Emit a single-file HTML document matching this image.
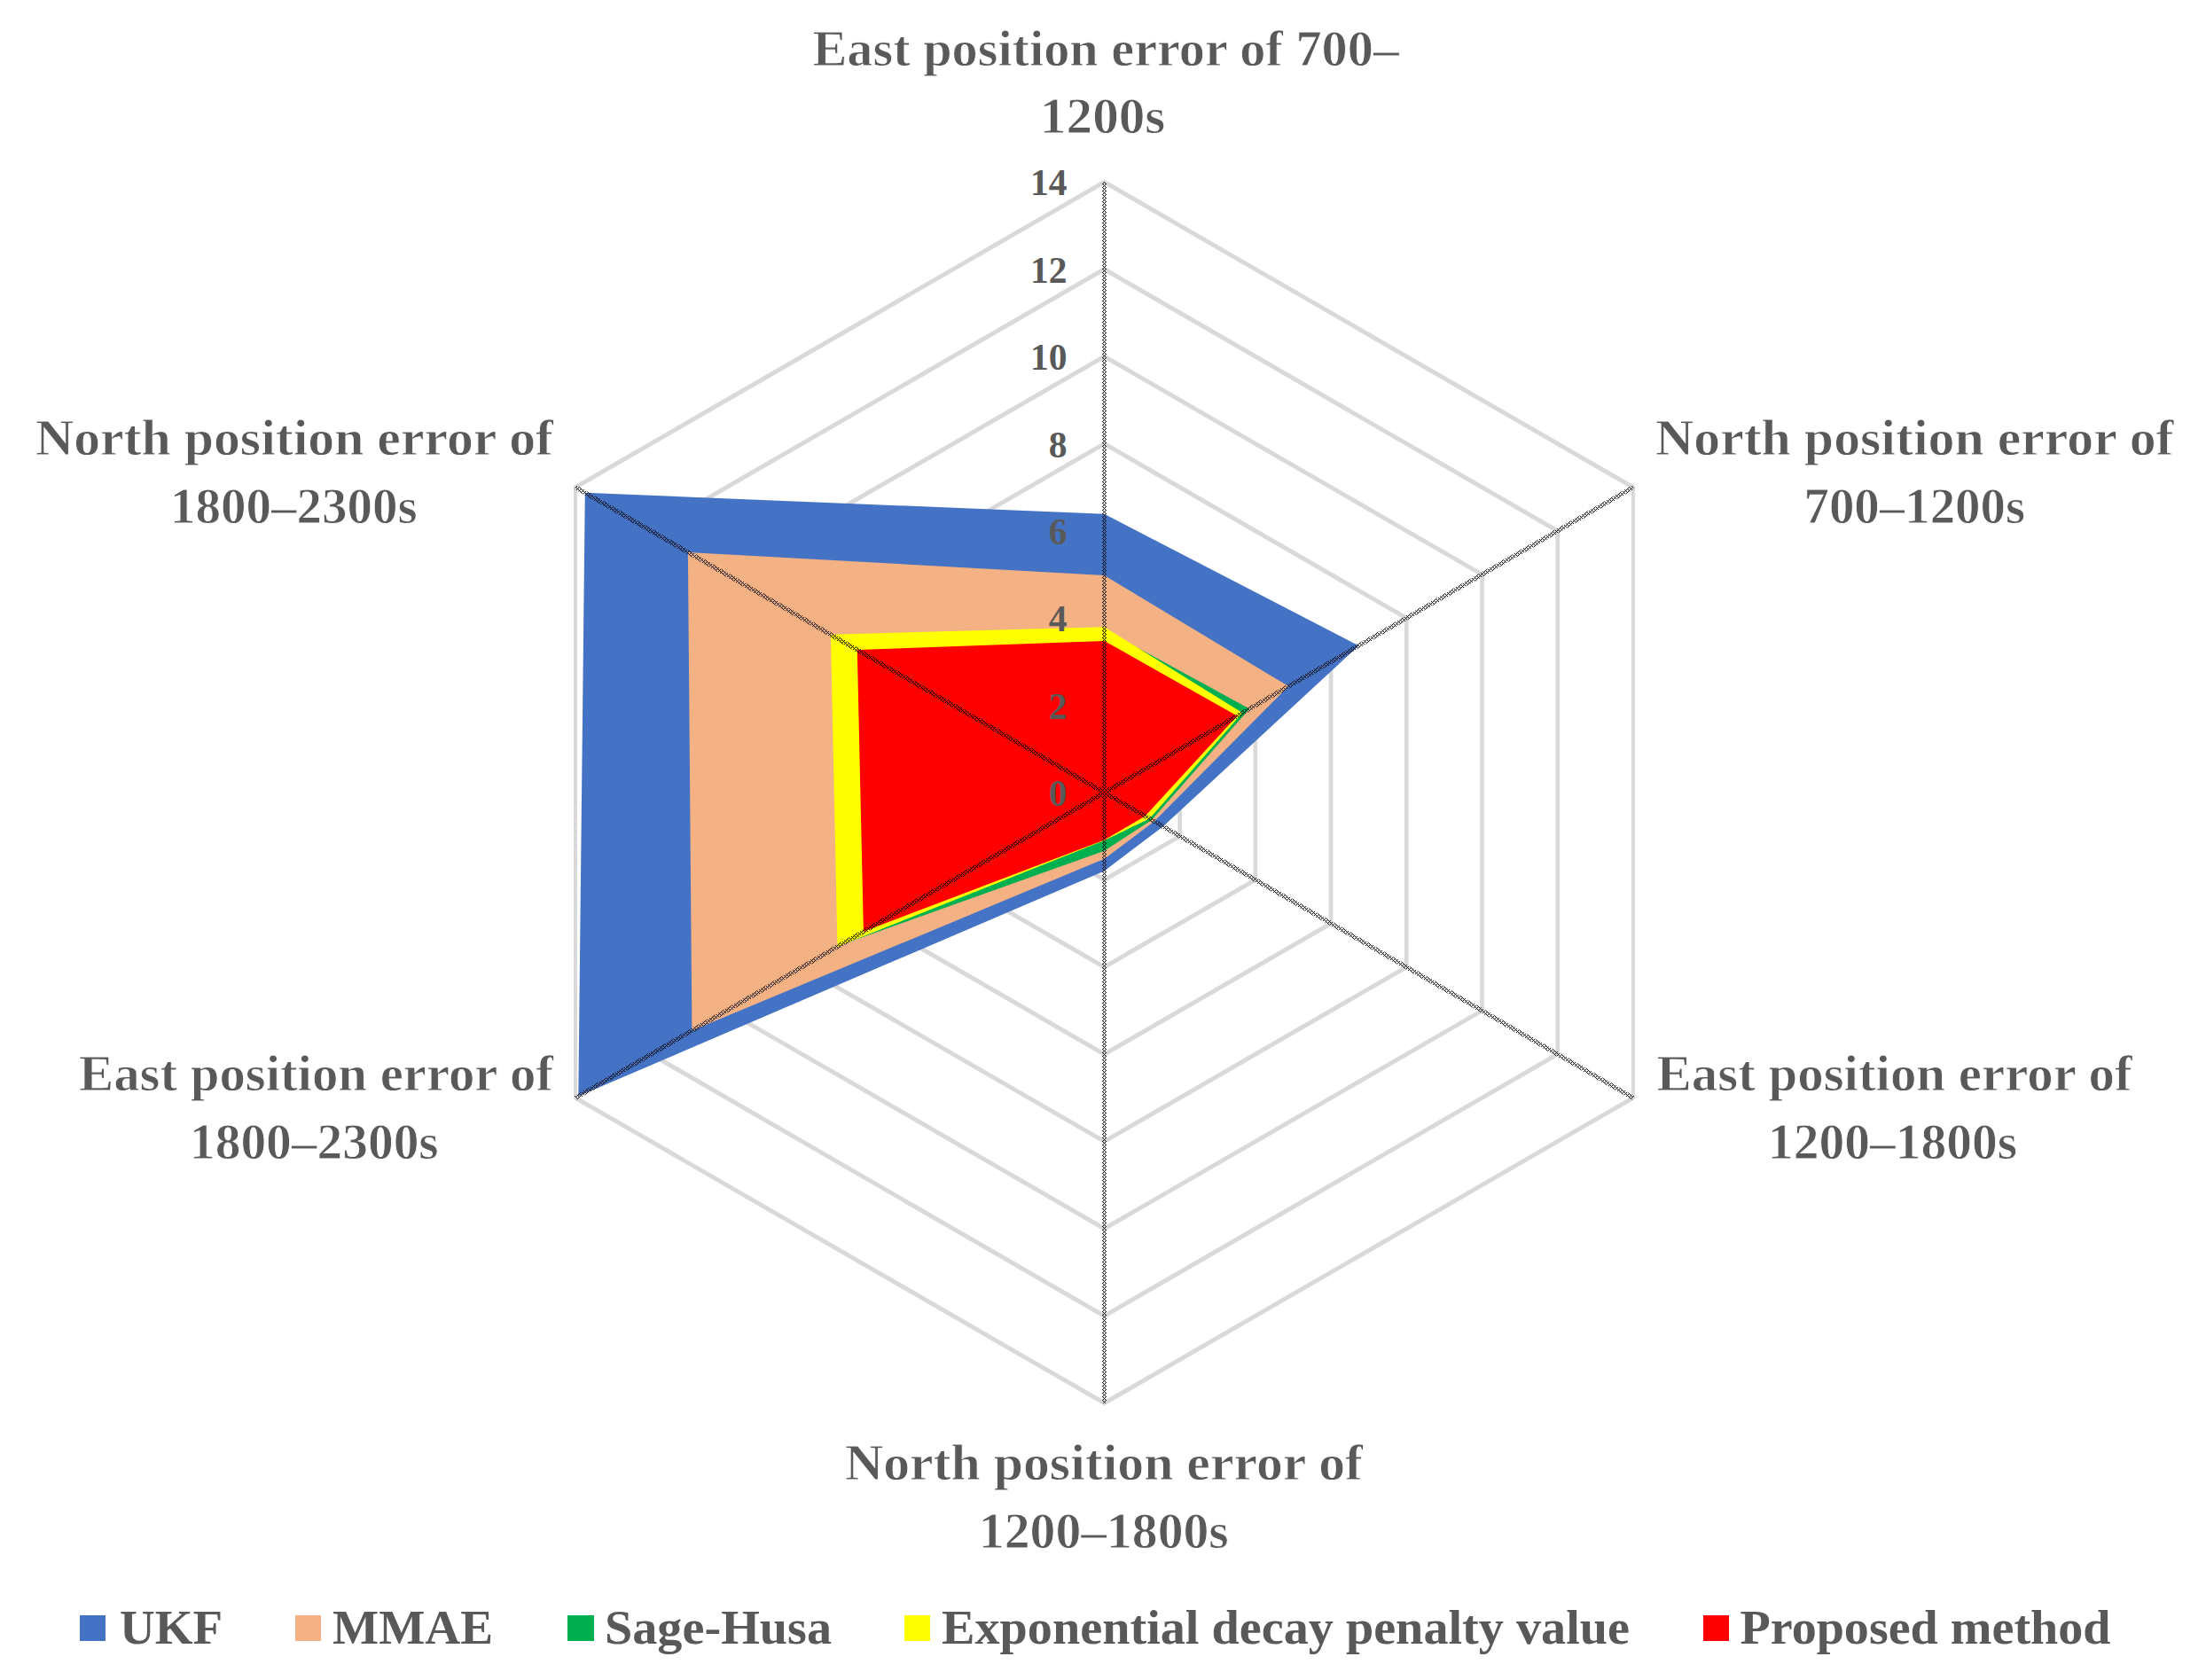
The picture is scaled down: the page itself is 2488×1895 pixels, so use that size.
<!DOCTYPE html>
<html lang="en">
<head>
<meta charset="utf-8">
<title>Radar chart - position error comparison</title>
<style>
html,body{margin:0;padding:0;background:#fff;}
body{width:2488px;height:1895px;overflow:hidden;}
svg{display:block;}
.t{font-family:"Liberation Serif","DejaVu Serif",serif;font-weight:bold;fill:#595959;}
</style>
</head>
<body>
<svg width="2488" height="1895" viewBox="0 0 2488 1895">
<defs>
<pattern id="hatch" x="1243" y="1" width="4" height="4" patternUnits="userSpaceOnUse">
<g fill="#000" shape-rendering="crispEdges">
<rect x="2" y="0" width="1" height="1"/><rect x="1" y="1" width="1" height="1"/><rect x="3" y="1" width="1" height="1"/><rect x="0" y="2" width="1" height="1"/><rect x="1" y="3" width="1" height="1"/><rect x="3" y="3" width="1" height="1"/>
</g>
</pattern>
</defs>
<rect width="2488" height="1895" fill="#fff"/>
<g fill="none" stroke="#D9D9D9" stroke-width="4.9" stroke-linejoin="miter">
<polyline points="1160.3,844.8 1245.5,795.6 1330.7,844.8"/>
<polyline points="1330.7,943.2 1245.5,992.4 1160.3,943.2"/>
<polyline points="1075.1,795.6 1245.5,697.2 1415.9,795.6"/>
<polyline points="1415.9,992.4 1245.5,1090.8 1075.1,992.4"/>
<polyline points="989.9,746.4 1245.5,598.8 1501.1,746.4"/>
<polyline points="1501.1,1041.6 1245.5,1189.2 989.9,1041.6"/>
<polyline points="904.7,697.2 1245.5,500.5 1586.3,697.2"/>
<polyline points="1586.3,1090.8 1245.5,1287.5 904.7,1090.8"/>
<polyline points="819.5,648.0 1245.5,402.1 1671.5,648.0"/>
<polyline points="1671.5,1140.0 1245.5,1385.9 819.5,1140.0"/>
<polyline points="734.3,598.8 1245.5,303.7 1756.7,598.8"/>
<polyline points="1756.7,1189.2 1245.5,1484.3 734.3,1189.2"/>
<polyline points="649.1,549.6 1245.5,205.3 1841.9,549.7"/>
<polyline points="1841.9,1238.3 1245.5,1582.7 649.1,1238.3"/>
</g>
<g fill="#D9D9D9">
<rect x="1328.40" y="843.3" width="4.6" height="101.4"/>
<rect x="1158.00" y="843.3" width="4.6" height="101.4"/>
<rect x="1413.61" y="794.1" width="4.6" height="199.8"/>
<rect x="1072.79" y="794.1" width="4.6" height="199.8"/>
<rect x="1498.81" y="744.9" width="4.6" height="298.2"/>
<rect x="987.59" y="744.9" width="4.6" height="298.2"/>
<rect x="1584.02" y="695.7" width="4.6" height="396.5"/>
<rect x="902.38" y="695.7" width="4.6" height="396.5"/>
<rect x="1669.22" y="646.5" width="4.6" height="494.9"/>
<rect x="817.18" y="646.5" width="4.6" height="494.9"/>
<rect x="1754.43" y="597.3" width="4.6" height="593.3"/>
<rect x="731.97" y="597.3" width="4.6" height="593.3"/>
<rect x="1840.00" y="548.2" width="4.0" height="691.7"/>
<rect x="647.00" y="548.1" width="4.0" height="691.7"/>
</g>
<polygon points="1245.5,579.7 1532.5,728.3 1311.8,932.2 1245.5,982.4 652.3,1236.5 659.8,555.8" fill="#4472C4"/>
<polygon points="1245.5,649.0 1453.2,774.1 1301.8,926.5 1245.5,968.8 780.4,1162.5 775.9,622.9" fill="#F4B183"/>
<polygon points="1245.5,710.0 1409.2,799.5 1298.9,924.9 1245.5,959.8 947.2,1066.2 944.1,720.0" fill="#00B050"/>
<polygon points="1245.5,707.3 1401.2,804.1 1296.4,923.4 1245.5,947.9 944.5,1067.8 936.9,715.8" fill="#FFFF00"/>
<polygon points="1245.5,722.9 1395.3,807.5 1291.6,920.6 1245.5,947.5 973.9,1050.8 966.8,733.1" fill="#FF0000"/>
<g fill="url(#hatch)">
<polygon points="1248.00,894.00 1248.00,205.30 1243.00,205.30 1243.00,894.00"/>
<polygon points="1246.75,896.17 1843.18,551.82 1840.68,547.48 1244.25,891.83"/>
<polygon points="1244.25,896.17 1840.68,1240.52 1843.18,1236.18 1246.75,891.83"/>
<polygon points="1243.00,894.00 1243.00,1582.70 1248.00,1582.70 1248.00,894.00"/>
<polygon points="1244.25,891.83 647.82,1236.18 650.32,1240.52 1246.75,896.17"/>
<polygon points="1246.75,891.83 650.32,547.48 647.82,551.82 1244.25,896.17"/>
</g>
<g class="t" font-size="41.5" text-anchor="end">
<text x="1203.5" y="909.0">0</text>
<text x="1203.5" y="810.6">2</text>
<text x="1203.5" y="712.2">4</text>
<text x="1203.5" y="613.8">6</text>
<text x="1203.5" y="515.5">8</text>
<text x="1203.5" y="417.1">10</text>
<text x="1203.5" y="318.7">12</text>
<text x="1203.5" y="220.3">14</text>
</g>
<g class="t" font-size="56" stroke="#fff" stroke-width="0.8">
<text x="916.5" y="74.1" textLength="661.5" lengthAdjust="spacingAndGlyphs">East position error of 700–</text>
<text x="1173.0" y="149.6" textLength="141.3" lengthAdjust="spacingAndGlyphs">1200s</text>
<text x="1867.0" y="513.3" textLength="584.5" lengthAdjust="spacingAndGlyphs">North position error of</text>
<text x="2034.5" y="590.2" textLength="249.6" lengthAdjust="spacingAndGlyphs">700–1200s</text>
<text x="1868.5" y="1230.0" textLength="536.0" lengthAdjust="spacingAndGlyphs">East position error of</text>
<text x="1994.0" y="1306.9" textLength="281.2" lengthAdjust="spacingAndGlyphs">1200–1800s</text>
<text x="953.0" y="1668.7" textLength="584.0" lengthAdjust="spacingAndGlyphs">North position error of</text>
<text x="1104.0" y="1746.2" textLength="281.7" lengthAdjust="spacingAndGlyphs">1200–1800s</text>
<text x="89.0" y="1230.0" textLength="535.0" lengthAdjust="spacingAndGlyphs">East position error of</text>
<text x="214.0" y="1306.9" textLength="280.7" lengthAdjust="spacingAndGlyphs">1800–2300s</text>
<text x="40.0" y="513.3" textLength="584.0" lengthAdjust="spacingAndGlyphs">North position error of</text>
<text x="192.0" y="590.2" textLength="278.7" lengthAdjust="spacingAndGlyphs">1800–2300s</text>
</g>
<g class="t" font-size="54.2">
<rect x="90" y="1822" width="29" height="29" fill="#4472C4"/>
<text x="135.0" y="1854.4" textLength="116.1" lengthAdjust="spacingAndGlyphs">UKF</text>
<rect x="333" y="1822" width="29" height="29" fill="#F4B183"/>
<text x="375.0" y="1854.4" textLength="181.1" lengthAdjust="spacingAndGlyphs">MMAE</text>
<rect x="640" y="1822" width="30" height="29" fill="#00B050"/>
<text x="682.0" y="1854.4" textLength="256.1" lengthAdjust="spacingAndGlyphs">Sage-Husa</text>
<rect x="1020" y="1822" width="29" height="29" fill="#FFFF00"/>
<text x="1062.0" y="1854.4" textLength="776.0" lengthAdjust="spacingAndGlyphs">Exponential decay penalty value</text>
<rect x="1921" y="1822" width="29" height="29" fill="#FF0000"/>
<text x="1962.5" y="1854.4" textLength="418.0" lengthAdjust="spacingAndGlyphs">Proposed method</text>
</g>
</svg>
</body>
</html>
